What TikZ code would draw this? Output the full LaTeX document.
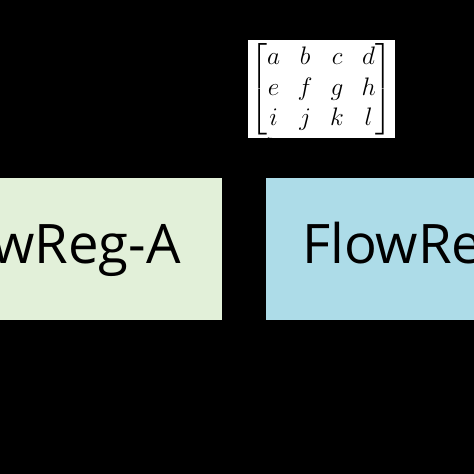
\documentclass[tikz,border=0pt]{standalone}
\usepackage{amsmath}
\usepackage{fontspec}
\setsansfont{Open Sans}
\usetikzlibrary{positioning}
\definecolor{regA}{RGB}{226,240,217}
\definecolor{regB}{RGB}{173,220,232}

\begin{document}
\begin{tikzpicture}[
  regbox/.style={minimum width=6.72cm,minimum height=2.84cm,inner sep=0pt,
    font=\sffamily\fontsize{31}{37}\selectfont},
  matbox/.style={fill=white,minimum width=2.94cm,minimum height=1.96cm,inner sep=0pt}]
 \useasboundingbox (0,0) rectangle (9.48,9.48);
 \fill[black](0,0) rectangle (9.48,9.48);
 \node[regbox,fill=regA,minimum width=6.9cm] (rega) at (0.99,4.5) {FlowReg-A};
 \node[regbox,fill=regB,right=0.86cm of rega] (regb) {FlowReg-B};
 \node[matbox] (mat) at (6.43,7.7)
  {\fontsize{14.5}{17.5}\selectfont$\begin{bmatrix} a & b & c & d\\ e & f & g & h\\ i & j & k & l \end{bmatrix}$};
 \coordinate (tip) at (5.44,6.72);
 \draw[black,thin,->](rega.north east)--(tip);
\end{tikzpicture}
\end{document}
